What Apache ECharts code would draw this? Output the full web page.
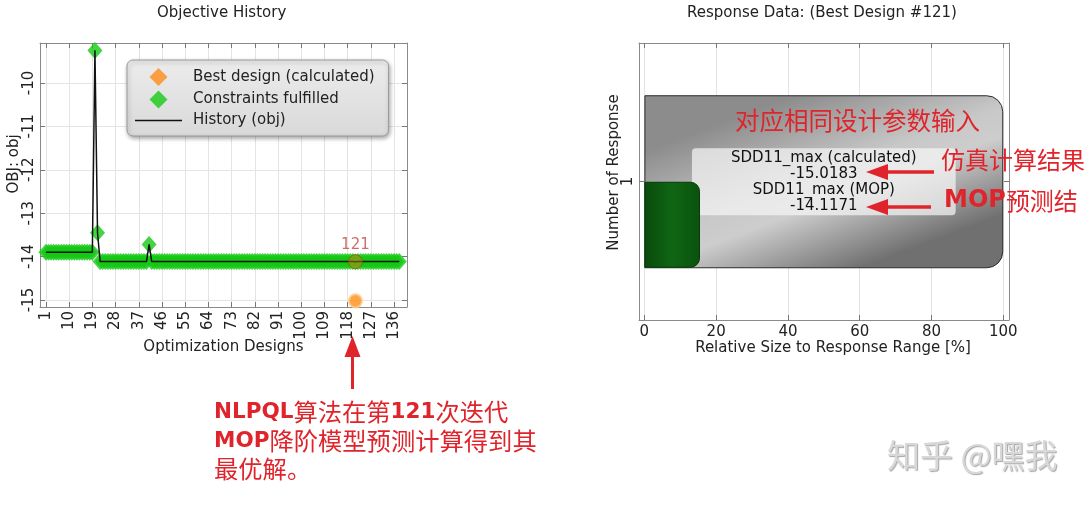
<!DOCTYPE html>
<html>
<head>
<meta charset="utf-8">
<script src="https://cdn.jsdelivr.net/npm/echarts@6/dist/echarts.min.js"></script>
<style>
html,body{margin:0;padding:0;background:#fff;}
#main{width:1088px;height:505px;}
</style>
</head>
<body>
<div id="main"></div>
<script>
// ---------- data ----------
const objTitle = 'Objective History';
const respTitle = 'Response Data: (Best Design #121)';
const designTicks = [1, 10, 19, 28, 37, 46, 55, 64, 73, 82, 91, 100, 109, 118, 127, 136];
const objTicks = [-15, -14, -13, -12, -11, -10];
// objective value of each design 1..138 (History (obj) / Constraints fulfilled)
const objValues = [
  -13.90, -13.90, -13.90, -13.90, -13.90, -13.90, -13.90, -13.90, -13.90, -13.90,
  -13.90, -13.90, -13.90, -13.90, -13.90, -13.90, -13.90, -13.90, -13.90, -9.25,
  -13.45, -14.11, -14.11, -14.11, -14.11, -14.11, -14.11, -14.11, -14.11, -14.11,
  -14.11, -14.11, -14.11, -14.11, -14.11, -14.11, -14.11, -14.11, -14.11, -14.11,
  -13.72, -14.11, -14.11, -14.11, -14.11, -14.11, -14.11, -14.11, -14.11, -14.11,
  -14.11, -14.11, -14.11, -14.11, -14.11, -14.11, -14.11, -14.11, -14.11, -14.11,
  -14.11, -14.11, -14.11, -14.11, -14.11, -14.11, -14.11, -14.11, -14.11, -14.11,
  -14.11, -14.11, -14.11, -14.11, -14.11, -14.11, -14.11, -14.11, -14.11, -14.11,
  -14.11, -14.11, -14.11, -14.11, -14.11, -14.11, -14.11, -14.11, -14.11, -14.11,
  -14.11, -14.11, -14.11, -14.11, -14.11, -14.11, -14.11, -14.11, -14.11, -14.11,
  -14.11, -14.11, -14.11, -14.11, -14.11, -14.11, -14.11, -14.11, -14.11, -14.11,
  -14.11, -14.11, -14.11, -14.11, -14.11, -14.11, -14.11, -14.11, -14.11, -14.11,
  -14.1171, -14.11, -14.11, -14.11, -14.11, -14.11, -14.11, -14.11, -14.11, -14.11,
  -14.11, -14.11, -14.11, -14.11, -14.11, -14.11, -14.11, -14.11
];
const bestDesign = 121;
const bestCalculated = -15.0183;
const bestMOP = -14.1171;
const responseCategories = ['1'];
const responseNames = ['SDD11_max (calculated)', 'SDD11_max (MOP)'];
const responseValues = [-15.0183, -14.1171];
const responseRange = [100];        // full range bar [%]
const responseRelSize = [15.5];     // relative size [%]
const pctTicks = [0, 20, 40, 60, 80, 100];

// ---------- chart ----------
const chart = echarts.init(document.getElementById('main'), null, {renderer: 'canvas'});
const FONT = 'DejaVu Sans';
const CJK = 'Noto Sans CJK SC';
const RED = '#e0242b';
const axisLineC = '#8a8a8a';
const gridC = '#e4e4e4';
const FS = 15;
const DIAMOND = 'path://M8,0L16,8L8,16L0,8Z';

const historyData = objValues.map((v, i) => [i + 1, v]);

function boxAxis(extra) {
  return Object.assign({
    axisLine: {show: true, onZero: false, lineStyle: {color: axisLineC, width: 1}},
    axisTick: {show: true, inside: true, length: 5, lineStyle: {color: '#777'}},
    axisLabel: {show: false},
    splitLine: {show: false}
  }, extra);
}

const option = {
  animation: false,
  textStyle: {fontFamily: FONT},
  title: [
    {text: objTitle, left: 152, top: 1, textStyle: {fontFamily: FONT, fontSize: FS, fontWeight: 'normal', color: '#222'}},
    {text: respTitle, left: 682, top: 1, textStyle: {fontFamily: FONT, fontSize: FS, fontWeight: 'normal', color: '#222'}}
  ],
  legend: {
    left: 127, top: 60, orient: 'vertical',
    padding: [8, 14, 8, 8],
    itemWidth: 47, itemHeight: 18, itemGap: 4.5,
    symbolKeepAspect: true,
    selectedMode: false,
    backgroundColor: new echarts.graphic.LinearGradient(0, 0, 0, 1, [
      {offset: 0, color: '#ececec'}, {offset: 1, color: '#d9d9d9'}]),
    borderColor: '#9a9a9a', borderWidth: 1, borderRadius: 6,
    shadowBlur: 4, shadowColor: 'rgba(0,0,0,0.35)', shadowOffsetX: 1, shadowOffsetY: 2,
    textStyle: {fontFamily: FONT, fontSize: FS, color: '#222', padding: [0, 0, 0, 6]},
    data: [
      {name: 'Best design (calculated)', icon: DIAMOND, itemStyle: {color: '#ff8c1a', borderWidth: 0}},
      {name: 'Constraints fulfilled', icon: DIAMOND, itemStyle: {color: '#18c818', borderWidth: 0}},
      {name: 'History (obj)', icon: 'path://M0,0H47V1.6H0Z'}
    ]
  },
  grid: [
    {left: 40, top: 43, width: 367, height: 264},
    {left: 639, top: 43, width: 370, height: 277}
  ],
  xAxis: [
    {
      type: 'value', gridIndex: 0, position: 'bottom', min: -1.3, max: 141,
      name: 'Optimization Designs', nameLocation: 'middle', nameGap: 33, nameMoveOverlap: false,
      nameTextStyle: {fontSize: FS, color: '#222', fontFamily: FONT},
      axisLine: {show: true, onZero: false, lineStyle: {color: axisLineC}},
      axisTick: {show: true, inside: true, length: 5, customValues: designTicks, lineStyle: {color: '#777'}},
      axisLabel: {show: true, rotate: 90, margin: 4, fontSize: FS, color: '#222', customValues: designTicks},
      splitLine: {show: true, lineStyle: {color: gridC}}
    },
    boxAxis({type: 'value', gridIndex: 0, position: 'top', min: -1.3, max: 141,
      axisTick: {show: true, inside: true, length: 5, customValues: designTicks, lineStyle: {color: '#777'}}}),
    {
      type: 'value', gridIndex: 1, position: 'bottom', min: -1.5, max: 101.6,
      name: 'Relative Size to Response Range [%]', nameLocation: 'middle', nameGap: 21, nameMoveOverlap: false,
      nameTextStyle: {fontSize: FS, color: '#222', fontFamily: FONT, padding: [0, 0, 0, 18]},
      axisLine: {show: true, onZero: false, lineStyle: {color: axisLineC}},
      axisTick: {show: true, inside: true, length: 5, customValues: pctTicks, lineStyle: {color: '#777'}},
      axisLabel: {show: true, margin: 5, fontSize: FS, color: '#222', customValues: pctTicks},
      splitLine: {show: true, lineStyle: {color: gridC}}
    },
    boxAxis({type: 'value', gridIndex: 1, position: 'top', min: -1.5, max: 101.6,
      axisTick: {show: true, inside: true, length: 5, customValues: pctTicks, lineStyle: {color: '#777'}}})
  ],
  yAxis: [
    {
      type: 'value', gridIndex: 0, position: 'left', min: -15.16, max: -9.08,
      name: 'OBJ: obj', nameLocation: 'middle', nameGap: 18, nameMoveOverlap: false,
      nameTextStyle: {fontSize: FS, color: '#222', fontFamily: FONT, padding: [0, 0, 0, 22]},
      axisLine: {show: true, onZero: false, lineStyle: {color: axisLineC}},
      axisTick: {show: true, inside: true, length: 5, customValues: objTicks, lineStyle: {color: '#777'}},
      axisLabel: {show: true, rotate: 90, margin: 3, fontSize: FS, color: '#222', customValues: objTicks},
      splitLine: {show: true, lineStyle: {color: gridC}}
    },
    boxAxis({type: 'value', gridIndex: 0, position: 'right', min: -15.16, max: -9.08,
      axisTick: {show: true, inside: true, length: 5, customValues: objTicks, lineStyle: {color: '#777'}}}),
    {
      type: 'category', gridIndex: 1, position: 'left', data: responseCategories,
      name: 'Number of Response', nameLocation: 'middle', nameGap: 17, nameMoveOverlap: false,
      nameTextStyle: {fontSize: FS, color: '#222', fontFamily: FONT, padding: [0, 0, 0, 18]},
      axisLine: {show: true, onZero: false, lineStyle: {color: axisLineC}},
      axisTick: {show: true, inside: true, alignWithLabel: true, length: 5, lineStyle: {color: '#777'}},
      axisLabel: {show: true, rotate: 90, margin: 3, fontSize: FS, color: '#222'},
      splitLine: {show: false}
    },
    boxAxis({type: 'category', gridIndex: 1, position: 'right', data: responseCategories,
      axisTick: {show: true, inside: true, alignWithLabel: true, length: 5, lineStyle: {color: '#777'}}})
  ],
  series: [
    {
      name: 'Constraints fulfilled', type: 'scatter', xAxisIndex: 0, yAxisIndex: 0,
      symbol: 'diamond', symbolSize: [15, 17],
      itemStyle: {color: '#14c814'},
      data: historyData, z: 2
    },
    {
      name: 'History (obj)', type: 'line', xAxisIndex: 0, yAxisIndex: 0,
      symbol: 'none', showSymbol: false,
      lineStyle: {color: '#111', width: 1.5},
      itemStyle: {color: '#111'},
      data: historyData, z: 3
    },
    {
      name: 'MOP best', type: 'scatter', xAxisIndex: 0, yAxisIndex: 0,
      symbol: 'circle', symbolSize: 14,
      itemStyle: {color: 'rgba(230,120,20,0.55)', borderColor: '#8a5a10', borderWidth: 1},
      label: {show: true, position: 'top', distance: 2, formatter: String(bestDesign),
        color: '#c24a45', fontSize: FS, fontFamily: FONT},
      data: [[bestDesign, bestMOP]], z: 4
    },
    {
      name: 'Best design (calculated)', type: 'scatter', xAxisIndex: 0, yAxisIndex: 0,
      symbol: 'circle', symbolSize: 13,
      itemStyle: {color: '#ff8c14', borderColor: '#ffc98a', borderWidth: 2},
      data: [[bestDesign, bestCalculated]], z: 5
    },
    {
      name: 'Response range', type: 'bar', xAxisIndex: 2, yAxisIndex: 2,
      barWidth: 173, barGap: '-50%',
      itemStyle: {
        color: new echarts.graphic.LinearGradient(0.42, 0, 0.6, 1, [
          {offset: 0, color: '#8c8c8c'},
          {offset: 0.45, color: '#c8c8c8'},
          {offset: 0.6, color: '#cdcdcd'},
          {offset: 1, color: '#707070'}]),
        borderColor: '#2a2a2a', borderWidth: 1, borderRadius: [0, 16, 16, 0]
      },
      label: {
        show: true, position: 'inside',
        formatter: () => responseNames.map((n, i) => n + '\n' + responseValues[i].toFixed(4)).join('\n'),
        color: '#111', fontSize: FS, fontFamily: FONT, lineHeight: 16, align: 'center',
        backgroundColor: 'rgba(245,245,245,0.72)', borderRadius: 4, padding: [1.5, 39]
      },
      data: responseRange, z: 2
    },
    {
      name: 'Relative size', type: 'bar', xAxisIndex: 2, yAxisIndex: 2,
      barWidth: 86, barGap: '-50%',
      itemStyle: {
        color: new echarts.graphic.LinearGradient(0, 0, 1, 0, [
          {offset: 0, color: '#094a0c'},
          {offset: 0.5, color: '#106614'},
          {offset: 1, color: '#0a520d'}]),
        borderColor: '#063a08', borderWidth: 1, borderRadius: [0, 9, 9, 0]
      },
      data: responseRelSize, z: 3
    }
  ],
  graphic: [
    // right-chart annotations
    {type: 'text', left: 735, top: 108, z: 100, style: {text: '对应相同设计参数输入', font: '24.5px "' + CJK + '"', fill: RED}},
    {type: 'text', left: 941, top: 148, z: 100, style: {text: '仿真计算结果', font: '24px "' + CJK + '"', fill: RED}},
    {type: 'text', left: 944, top: 189, z: 100, style: {
      text: '{b|MOP}预测结', font: '24px "' + CJK + '"', fill: RED,
      rich: {b: {fontWeight: 'bold', fontSize: 24, fontFamily: FONT, fill: RED, color: RED}}}},
    {type: 'line', z: 100, shape: {x1: 884, y1: 172, x2: 934, y2: 172}, style: {stroke: RED, lineWidth: 3.5}},
    {type: 'polygon', z: 100, shape: {points: [[866, 172], [888, 164], [888, 180]]}, style: {fill: RED}},
    {type: 'line', z: 100, shape: {x1: 884, y1: 207, x2: 931, y2: 207}, style: {stroke: RED, lineWidth: 3.5}},
    {type: 'polygon', z: 100, shape: {points: [[866, 207], [888, 199], [888, 215]]}, style: {fill: RED}},
    // bottom-left annotation
    {type: 'line', z: 100, shape: {x1: 352.5, y1: 354, x2: 352.5, y2: 389}, style: {stroke: RED, lineWidth: 3}},
    {type: 'polygon', z: 100, shape: {points: [[352.5, 336], [344.5, 357], [360.5, 357]]}, style: {fill: RED}},
    {type: 'text', left: 214, top: 400, z: 100, style: {
      text: '{b|NLPQL}{c|算法在第}{b|121}{c|次迭代}', fill: RED,
      rich: {b: {fontWeight: 'bold', fontSize: 21.5, fontFamily: FONT, color: RED},
             c: {fontSize: 24.3, fontFamily: CJK, color: RED}}}},
    {type: 'text', left: 214, top: 429, z: 100, style: {
      text: '{b|MOP}{c|降阶模型预测计算得到其}', fill: RED,
      rich: {b: {fontWeight: 'bold', fontSize: 21.5, fontFamily: FONT, color: RED},
             c: {fontSize: 24.3, fontFamily: CJK, color: RED}}}},
    {type: 'text', left: 214, top: 457, z: 100, style: {text: '最优解。', font: '24.3px "' + CJK + '"', fill: RED}},
    // watermark
    {type: 'text', left: 887, top: 439, z: 100, style: {
      text: '知乎 @嘿我', font: '33px "' + CJK + '"', fill: '#d8d8d8',
      textShadowColor: 'rgba(0,0,0,0.35)', textShadowOffsetX: 1, textShadowOffsetY: 1, textShadowBlur: 1}}
  ]
};
chart.setOption(option);
</script>
</body>
</html>
